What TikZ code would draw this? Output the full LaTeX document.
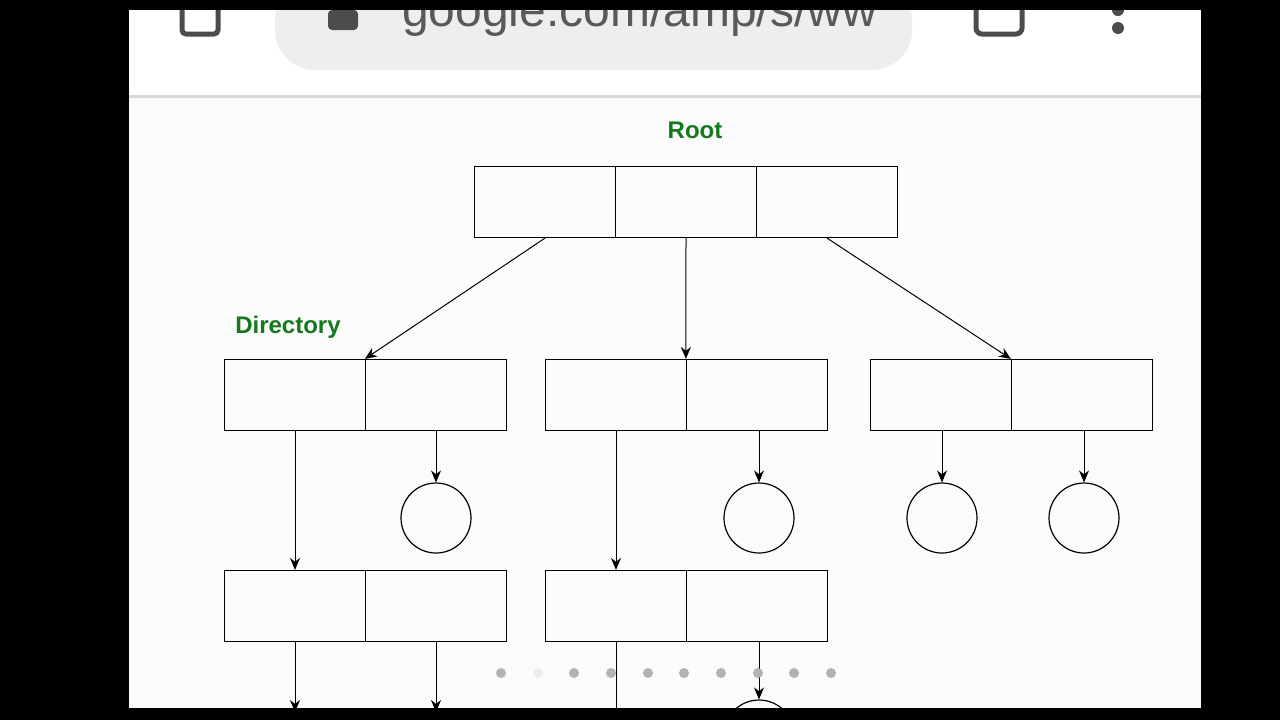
\documentclass[tikz,border=0pt]{standalone}
\usepackage{fontspec}
\setmainfont{Liberation Sans}
\usetikzlibrary{arrows.meta}
\definecolor{dirgreen}{RGB}{20,120,30}
\definecolor{pill}{RGB}{238,238,240}
\tikzset{cell/.style={draw, minimum width=70.5pt, minimum height=35.5pt, inner sep=0pt, line width=0.6pt},
  file/.style={draw, circle, minimum size=35pt, inner sep=0pt, line width=0.6pt},
  ptr/.style={-{Stealth[length=6pt, width=5pt]}, line width=0.5pt},
  lbl/.style={text=dirgreen, font=\bfseries\large}}
\begin{document}
\begin{tikzpicture}[x=0.5pt, y=-0.5pt]
\useasboundingbox (0,0) rectangle (1280,720);
\fill[black] (0,0) rectangle (1280,720);
\fill[white!98.5!black] (129,10) rectangle (1201,708);
\fill[white] (129,10) rectangle (1201,95);
\draw[gray!30, line width=1.5pt] (129,96) -- (1201,96);
% top bar
\begin{scope}
\clip (129,10) rectangle (1201,95);
\fill[pill, rounded corners=20pt] (275,-20) rectangle (912,70);
\node[anchor=west, text=gray!70!black, font=\fontsize{24}{24}\selectfont] (url) at (395,14) {google.com/amp/s/ww};
\draw[line width=2.5pt, gray!60!black, rounded corners=2pt] (182,0) rectangle (218,34);
\fill[gray!60!black, rounded corners=2pt] (328,10) rectangle (358,30);
\draw[line width=2.5pt, gray!60!black, rounded corners=3pt] (976,0) rectangle (1022,34);
\fill[gray!60!black] (1118,10) circle (6) (1118,28) circle (6);
\end{scope}
% tree
\node[lbl] (root) at (695,130) {Root};
\node[lbl] (dir) at (288,327) {Directory};
\foreach \n/\x/\y in {r1/545/202, r2/686/202, r3/827/202,
  a1/295/395, a2/436/395, b1/616/395, b2/757/395, c1/941/395, c2/1082/395,
  d1/295/606, d2/436/606, e1/616/606, e2/757/606}
  \node[cell] (\n) at (\x,\y) {};
\foreach \n/\x in {fa/436, fb/759, fc/942, fd/1084}
  \node[file] (\n) at (\x,518) {};
\draw[ptr] (r1.south) -- (a2.north west);
\draw[ptr] (r2.south) -- (b2.north west);
\draw[ptr] (r3.south) -- (c2.north west);
\draw[ptr] (a1.south) -- (d1.north);
\draw[ptr] (a2.south) -- (fa);
\draw[ptr] (b1.south) -- (e1.north);
\draw[ptr] (fb.north |- b2.south) -- (fb);
\draw[ptr] (fc.north |- c1.south) -- (fc);
\draw[ptr] (fd.north |- c2.south) -- (fd);
\begin{scope}
\clip (129,10) rectangle (1201,708);
\node[file] (fe) at (759,735) {};
\coordinate (g1) at (295,712);
\coordinate (g2) at (436,712);
\coordinate (g3) at (616,712);
\draw[ptr] (d1.south) -- (g1);
\draw[ptr] (d2.south) -- (g2);
\draw (e1.south) -- (g3);
\draw[ptr] (fe.north |- e2.south) -- (fe);
\end{scope}
% page dots
\foreach \x in {501,574,611,648,684,721,758,794,831}
  \fill[gray!60] (\x,673) circle (5);
\fill[gray!15] (538,673) circle (5);
\end{tikzpicture}
\end{document}
